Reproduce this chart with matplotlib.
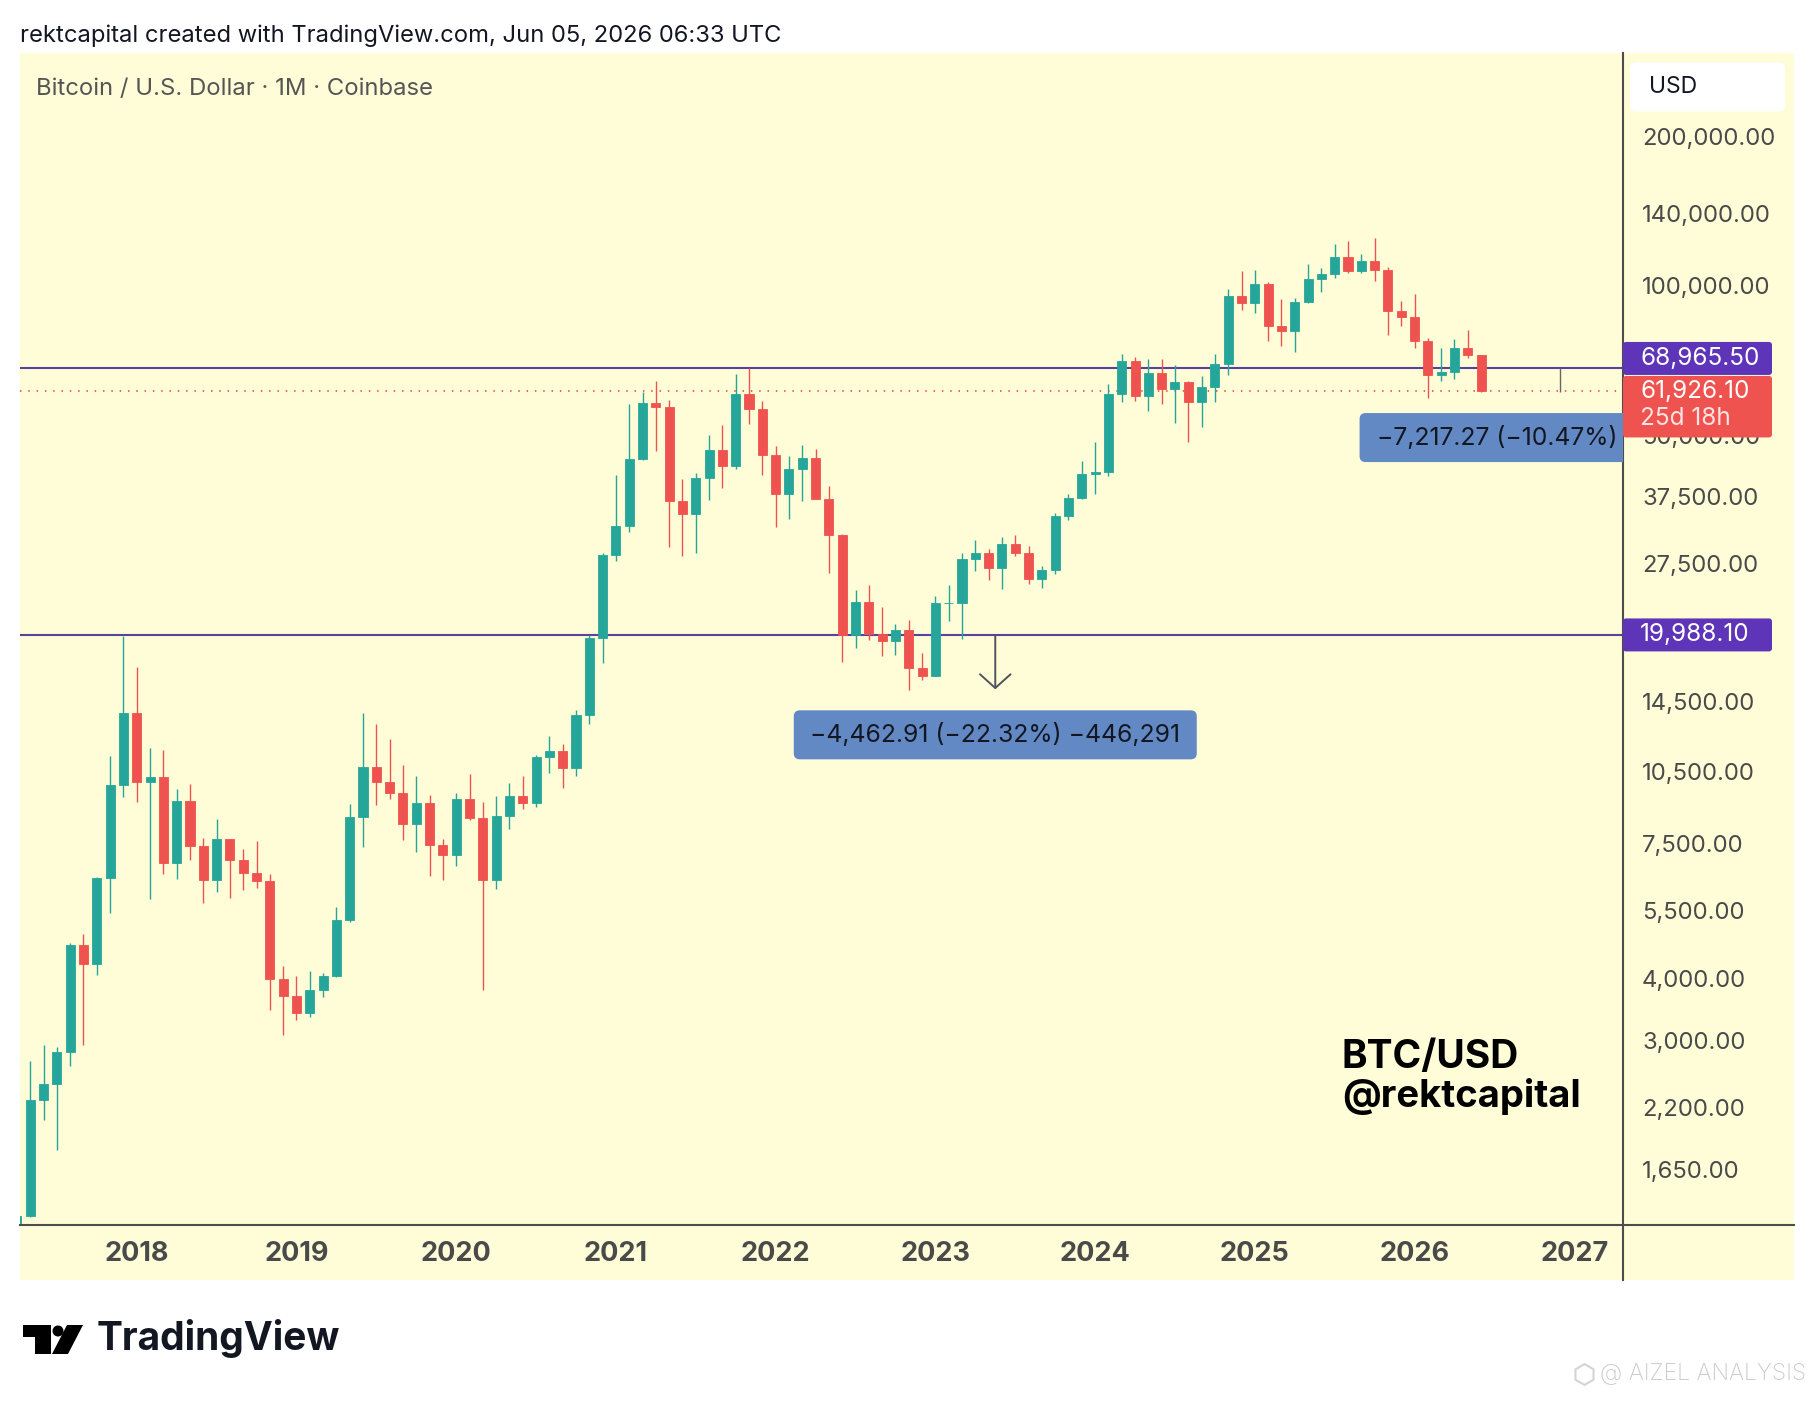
import matplotlib
matplotlib.use('Agg')
import matplotlib.pyplot as plt
from matplotlib.patches import FancyBboxPatch, Rectangle, Polygon, Circle
from matplotlib.ticker import NullLocator
import numpy as np
import pandas as pd

plt.rcParams['font.family'] = ['Inter', 'DejaVu Sans']

# monthly candles, Coinbase BTC/USD
months = [str(p) for p in pd.period_range('2017-04', '2026-06', freq='M')]

opens = [1080, 1348, 2300, 2480, 2875, 4735, 4340, 6450, 9950,
         13880, 10100, 10330, 6920, 9240, 7500, 6390, 7730, 7020, 6630, 6370, 4040,
         3740, 3460, 3840, 4100, 5320, 8570, 10820, 10080, 9590, 8300, 9150, 7550,
         7200, 9350, 8530, 6410, 8630, 9450, 9140, 11340, 11650, 10780, 13800, 19700,
         28990, 33110, 45160, 58800, 57720, 37300, 35040, 41490, 47100, 43820, 61300, 57000,
         46200, 38480, 43180, 45540, 37650, 31800, 19940, 23300, 20050, 19420, 20490, 17165,
         16540, 23130, 23150, 28470, 29250, 27220, 30480, 29230, 25930, 26970, 34650, 37720,
         42280, 42580, 61150, 71290, 60650, 67490, 62700, 64600, 58970, 63330, 70200, 96400,
         93400, 102200, 84000, 82000, 94000, 104300, 107000, 115500, 108200, 113700, 109000, 90000,
         87300, 78400, 66700, 67800, 75800, 73300]
highs = [1350, 2760, 2980, 2950, 4780, 4975, 6480, 11400, 19891,
         17250, 11800, 11700, 9770, 10000, 7770, 8500, 7760, 7410, 7680, 6600, 4300,
         4100, 4200, 4150, 5640, 9100, 13880, 13200, 12330, 10950, 10370, 9500, 7750,
         9580, 10500, 9190, 9470, 10070, 10380, 11450, 12480, 12070, 14100, 19950, 29300,
         41950, 58350, 61790, 64900, 59600, 41330, 42400, 50500, 52950, 67000, 69000, 59100,
         47990, 45800, 48200, 47440, 39980, 31980, 24670, 25200, 22800, 20990, 21450, 18390,
         23950, 25250, 29200, 31000, 29850, 31430, 31800, 30200, 27500, 35280, 38420, 44750,
         48970, 64000, 73800, 72750, 71950, 71980, 70000, 65100, 66500, 73600, 99800, 108300,
         109100, 102800, 95000, 95750, 111800, 110000, 123100, 124300, 117400, 126000, 110300, 94400,
         97400, 79200, 75800, 79150, 82500, 73500]
lows = [1060, 1340, 2100, 1830, 2700, 2970, 4110, 5500, 9400,
        9200, 5870, 6600, 6430, 7030, 5760, 6070, 5880, 6120, 6170, 3500, 3120,
        3350, 3390, 3720, 4080, 5260, 7450, 9060, 9320, 7710, 7300, 6520, 6410,
        6850, 8450, 3850, 6150, 8100, 8900, 8980, 10520, 9820, 10370, 13200, 17570,
        28130, 32300, 45000, 47000, 30000, 28800, 29280, 37330, 39600, 43280, 53250, 42000,
        32950, 34300, 37160, 37580, 26700, 17600, 18780, 19540, 18150, 18190, 15480, 16250,
        16500, 21350, 19570, 26950, 25800, 24750, 28860, 25300, 24900, 26540, 34100, 37600,
        38500, 41880, 59000, 59100, 56550, 58400, 53500, 49000, 52550, 58900, 66800, 90500,
        89200, 78200, 76600, 74400, 93300, 98200, 104800, 107300, 107200, 103200, 80600, 83800,
        75800, 60100, 64900, 65600, 72400, 61700]
closes = [1348, 2300, 2480, 2875, 4735, 4340, 6450, 9950, 13880,
          10100, 10330, 6920, 9240, 7500, 6390, 7730, 7020, 6630, 6370, 4040, 3740,
          3460, 3840, 4100, 5320, 8570, 10820, 10080, 9590, 8300, 9150, 7550, 7200,
          9350, 8530, 6410, 8630, 9450, 9140, 11340, 11650, 10780, 13800, 19700, 28990,
          33110, 45160, 58800, 57720, 37300, 35040, 41490, 47100, 43820, 61300, 57000, 46200,
          38480, 43180, 45540, 37650, 31800, 19940, 23300, 20050, 19420, 20490, 17165, 16540,
          23130, 23150, 28470, 29250, 27220, 30480, 29230, 25930, 26970, 34650, 37720, 42280,
          42580, 61150, 71290, 60650, 67490, 62700, 64600, 58970, 63330, 70200, 96400, 93400,
          102200, 84000, 82000, 94000, 104300, 107000, 115500, 108200, 113700, 109000, 90000, 87300,
          78400, 66700, 67800, 75800, 73300, 61926.10]

year_labels = ['2018', '2019', '2020', '2021', '2022', '2023', '2024', '2025', '2026', '2027']
price_ticks = [200000, 140000, 100000, 50000, 37500, 27500,
               14500, 10500, 7500, 5500, 4000, 3000, 2200, 1650]

level_top = 68965.50
level_bottom = 19988.10
last_price = 61926.10
countdown = '25d 18h'
drop_1 = -4462.91
drop_1_text = '\u22124,462.91 (\u221222.32%) \u2212446,291'
drop_2 = -7217.27
drop_2_text = '\u22127,217.27 (\u221210.47%)'

header = 'rektcapital created with TradingView.com, Jun 05, 2026 06:33 UTC'
title = 'Bitcoin / U.S. Dollar \u00b7 1M \u00b7 Coinbase'

GREEN = '#26A69A'
RED = '#EF5350'
PURPLE_LINE = '#5A419E'
PURPLE_TAG = '#5E35B8'
BLUE_BOX = '#6289C4'
BG = '#FEFDD8'
AXIS = '#4D4D4D'
LABEL = '#4A4A4A'

W, H = 1814, 1402
fig = plt.figure(figsize=(W / 100, H / 100), dpi=100)
fig.patch.set_facecolor('white')


def fx(px):
    return px / W


def fy(py):
    return 1 - py / H


fig.add_artist(Rectangle((fx(20), fy(1280)), fx(1794) - fx(20), fy(53) - fy(1280),
                         transform=fig.transFigure, fc=BG, ec='none', zorder=0))

L, R, T, B = 20, 1623, 53, 1225
ax = fig.add_axes([fx(L), fy(B), fx(R) - fx(L), fy(T) - fy(B)], zorder=1)
ax.set_facecolor('none')
ax.set_yscale('log')
ax.set_xlim(-8.77, 111.66)
ax.set_ylim(1290, 298200)
for s in ax.spines.values():
    s.set_visible(False)
ax.xaxis.set_major_locator(NullLocator())
ax.yaxis.set_major_locator(NullLocator())
ax.yaxis.set_minor_locator(NullLocator())

# candles
x = np.array([(int(m[:4]) - 2018) * 12 + int(m[5:]) - 1 for m in months], dtype=float)
o = np.array(opens, dtype=float)
h = np.array(highs, dtype=float)
l = np.array(lows, dtype=float)
c = np.array(closes, dtype=float)
col = np.where(c >= o, GREEN, RED)
ax.vlines(x, l, h, colors=col, lw=1.0, zorder=3)
ax.bar(x, np.abs(c - o), bottom=np.minimum(o, c), width=0.68, color=col,
       edgecolor=col, lw=0.6, zorder=4)

# levels
ax.axhline(level_top, color=PURPLE_LINE, lw=1.5, zorder=2)
ax.axhline(level_bottom, color=PURPLE_LINE, lw=1.5, zorder=2)
ax.axhline(last_price, color=RED, lw=1.3, ls=(0, (0.8, 3.8)), zorder=2)

# measurement tools
x_arrow = 64.5
ax.annotate('', xy=(x_arrow, level_bottom + drop_1), xytext=(x_arrow, level_bottom),
            arrowprops=dict(arrowstyle='->,head_length=0.45,head_width=0.5', color='#50535E',
                            lw=1.4, shrinkA=0, shrinkB=0, mutation_scale=22), zorder=5)
x_range2 = 106.9
x_box2 = 102.5
ax.vlines(x_range2, level_top + drop_2, level_top, colors='#666666', lw=1.0, zorder=5)

# overlay in pixel coordinates
ov = fig.add_axes([0, 0, 1, 1], zorder=5)
ov.set_xlim(0, W)
ov.set_ylim(H, 0)
ov.axis('off')
ov.patch.set_alpha(0)


def py(price):
    return H - ax.transData.transform((0, price))[1]


def pxm(m):
    return ax.transData.transform((m, 1000))[0]


# axis frame lines
ov.plot([L, 1794], [B, B], color=AXIS, lw=1.5, zorder=3)
ov.plot([R, R], [T, 1280], color=AXIS, lw=1.5, zorder=3)

# price scale labels
for p in price_ticks:
    ov.text(1642, py(p), f'{p:,.2f}', ha='left', va='center', fontsize=17.2,
            color=LABEL, zorder=1)

# time labels
for yl in year_labels:
    ov.text(pxm((int(yl) - 2018) * 12), 1254, yl, ha='center', va='center',
            fontsize=19.5, fontweight='bold', color=LABEL)

# price tags
y62 = py(last_price)
red_top = y62 - 15.5
ov.add_patch(FancyBboxPatch((R, red_top), 149, 61.5, boxstyle='round,pad=0,rounding_size=3',
                            fc=RED, ec='none', zorder=4))
ov.text(1640, y62, f'{last_price:,.2f}', ha='left', va='center', fontsize=17.5,
        color='white', zorder=5)
ov.text(1640, y62 + 27, countdown, ha='left', va='center', fontsize=17.5,
        color='#FFE3E2', zorder=5)
ov.add_patch(FancyBboxPatch((R, red_top - 34), 149, 33, boxstyle='round,pad=0,rounding_size=3',
                            fc=PURPLE_TAG, ec='none', zorder=4))
ov.text(1640, red_top - 17.5, f'{level_top:,.2f}', ha='left', va='center', fontsize=17.5,
        color='white', zorder=5)
y20 = py(level_bottom)
ov.add_patch(FancyBboxPatch((R, y20 - 16.5), 149, 33, boxstyle='round,pad=0,rounding_size=3',
                            fc=PURPLE_TAG, ec='none', zorder=4))
ov.text(1640, y20, f'{level_bottom:,.2f}', ha='left', va='center', fontsize=17.5,
        color='white', zorder=5)

# USD badge
ov.add_patch(FancyBboxPatch((1630, 62.5), 155, 49, boxstyle='round,pad=0,rounding_size=6',
                            fc='white', ec='none', zorder=4))
ov.text(1649, 87, 'USD', ha='left', va='center', fontsize=16.5, color='#131722', zorder=5)

# measurement labels
bx1 = pxm(x_arrow)
by1 = py(level_bottom + drop_1) + 21
ov.add_patch(FancyBboxPatch((bx1 - 201.5, by1), 403, 49, boxstyle='round,pad=0,rounding_size=6',
                            fc=BLUE_BOX, ec='none', zorder=4))
ov.text(bx1, by1 + 24.5, drop_1_text, ha='center', va='center', fontsize=17.8,
        color='#131722', zorder=5)
bx2 = pxm(x_box2)
by2 = py(level_top + drop_2) + 21
p2 = FancyBboxPatch((bx2 - 141.5, by2), 300, 49, boxstyle='round,pad=0,rounding_size=6',
                    fc=BLUE_BOX, ec='none', zorder=4)
ov.add_patch(p2)
p2.set_clip_box(ax.bbox)
t2 = ov.text(bx2 - 124.5, by2 + 24.5, drop_2_text, ha='left', va='center', fontsize=17.8,
             color='#131722', zorder=5)
t2.set_clip_box(ax.bbox)
t2.set_clip_on(True)

# texts
ov.text(20, 36, header, ha='left', va='center', fontsize=17.1, color='#131722')
ov.text(36, 89, title, ha='left', va='center', fontsize=17.2, color='#555555')
ov.text(1342, 1068, 'BTC/USD', ha='left', va='baseline', fontsize=28,
        fontweight='bold', color='black')
ov.text(1342, 1107, '@rektcapital', ha='left', va='baseline', fontsize=27.5,
        fontweight='bold', color='black')

# TradingView logo
ov.add_patch(Polygon([(23, 1325), (51, 1325), (51, 1354), (35, 1354), (35, 1337), (23, 1337)],
                     closed=True, fc='black', ec='none'))
ov.add_patch(Circle((58, 1331), 5.5, fc='black', ec='none'))
ov.add_patch(Polygon([(67, 1325), (83, 1325), (68, 1354), (52, 1354)],
                     closed=True, fc='black', ec='none'))
ov.text(97, 1339, 'TradingView', ha='left', va='center', fontsize=28,
        fontweight='bold', color='#131722')

# watermark
ov.plot(1584, 1374, marker='h', ms=15, mfc='none', mec='#D4D4D4', mew=1.5)
ov.text(1600, 1374, '@ AIZEL ANALYSIS', ha='left', va='center', fontsize=16.5,
        fontweight='light', color='#CBCBCB')

fig.savefig('out.png', dpi=100, facecolor='white')
